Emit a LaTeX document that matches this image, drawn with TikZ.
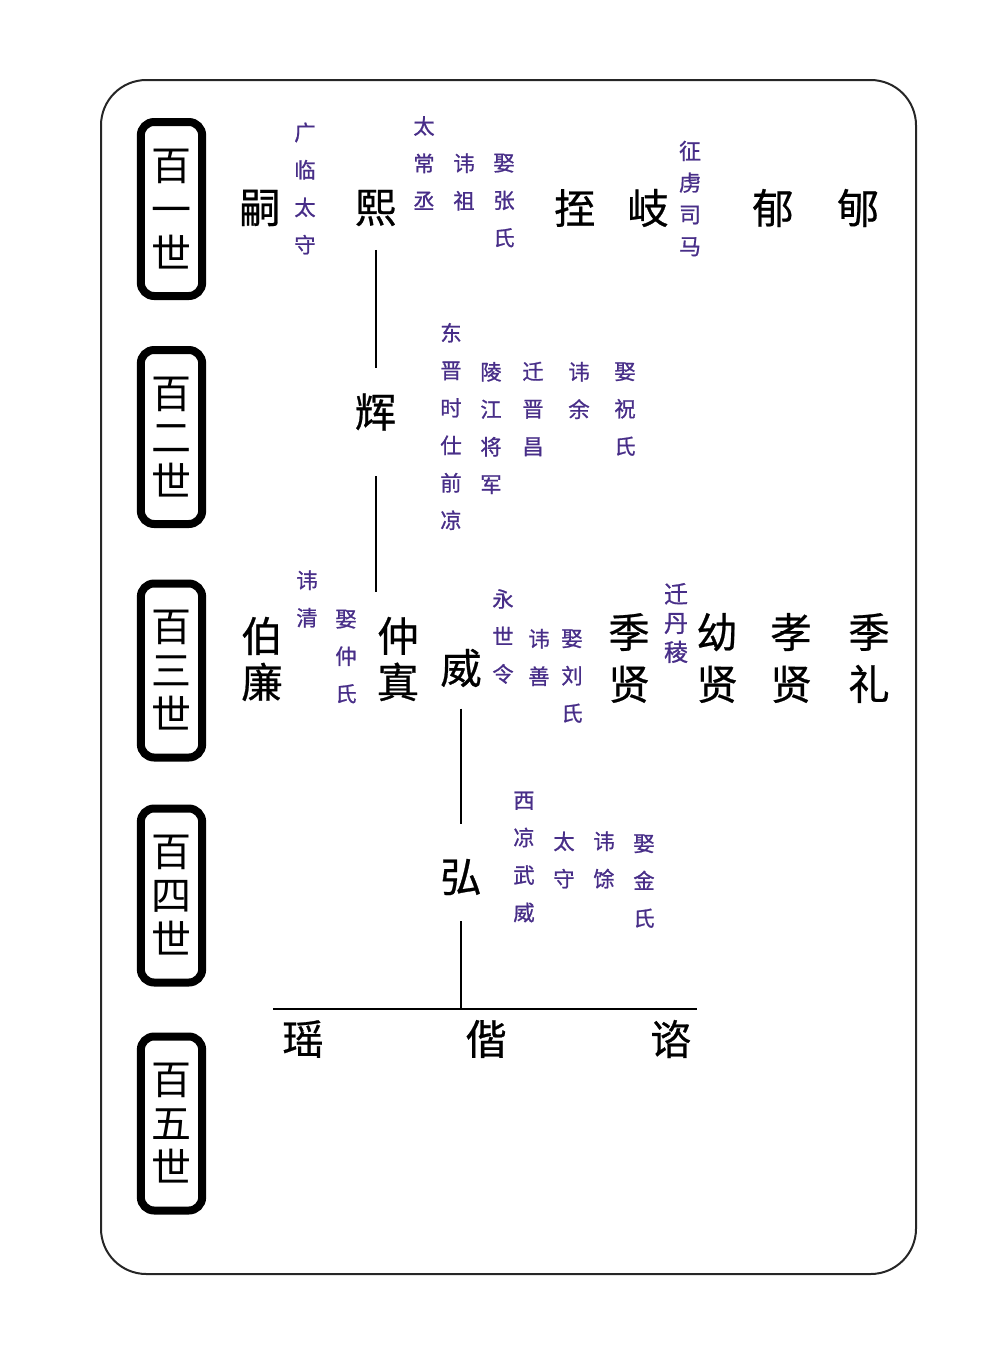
\documentclass[tikz,border=0pt]{standalone}
\usepackage{fontspec}
\newfontfamily\cjk{Noto Sans CJK SC}
\newfontfamily\cjkn[FakeBold=0.6]{Noto Sans CJK SC}
\newfontfamily\cjkp[FakeBold=0.9]{Noto Sans CJK SC}
\definecolor{purp}{RGB}{72,46,136}
\tikzset{
  nm/.style={font=\cjkn\fontsize{31}{34.5}\selectfont, inner sep=0pt, align=center},
  nmwide/.style={nm, font=\cjkn\fontsize{31}{39}\selectfont},
  nt/.style={font=\cjkp\fontsize{16}{28.1}\selectfont, text=purp, inner sep=0pt, align=center},
  gen/.style={draw, line width=6pt, rounded corners=10pt, minimum width=46pt,
    minimum height=130.5pt, inner sep=0pt, align=center, font=\cjk\fontsize{30}{33}\selectfont},
  link/.style={line width=1.5pt},
  frame/.style={line width=1.5pt, rounded corners=34pt, draw=black!85}
}
\begin{document}
\begin{tikzpicture}[x=0.75pt,y=-0.75pt]
\useasboundingbox (0,0) rectangle (1001,1361);
\draw[frame] (101,80) rectangle (916,1274);

% generation boxes
\node[gen] (g1) at (171.5,209) {百\\一\\世};
\node[gen] (g2) at (171.5,437) {百\\二\\世};
\node[gen] (g3) at (171.5,670.5) {百\\三\\世};
\node[gen] (g4) at (171.5,895.5) {百\\四\\世};
\node[gen] (g5) at (171.5,1123.5) {百\\五\\世};

% row 1
\node[nm] (si) at (260,208) {嗣};
\node[nm] (xi) at (375.5,208) {熙};
\node[nm] (zhi) at (575,208) {挃};
\node[nm] (qi) at (648,208) {岐};
\node[nm] (yu) at (773,208) {郁};
\node[nm] (xun) at (858,208) {郇};
\node[nt] (a1) at (305,188.5) {广\\临\\太\\守};
\node[nt] (a2) at (424,163) {太\\常\\丞};
\node[nt] (a3) at (464,182) {讳\\祖};
\node[nt] (a4) at (504,200.5) {娶\\张\\氏};
\node[nt, font=\cjkp\fontsize{16.5}{23.8}\selectfont] (a5) at (690,198.5) {征\\虏\\司\\马};

% row 2
\node[nm] (hui) at (375.5,412) {辉};
\node[nt] (b1) at (451,426.5) {东\\晋\\时\\仕\\前\\凉};
\node[nt] (b2) at (491,428) {陵\\江\\将\\军};
\node[nt] (b3) at (533,409) {迁\\晋\\昌};
\node[nt] (b4) at (579,390.5) {讳\\余};
\node[nt] (b5) at (625,409) {娶\\祝\\氏};

% row 3
\node[nm] (bolian) at (262,659) {伯\\廉};
\node[nt] (c1) at (307,599) {讳\\清};
\node[nt] (c2) at (346,656.5) {娶\\仲\\氏};
\node[nm] (zhongzhi) at (398,659) {仲\\寘};
\node[nm] (wei) at (461,668) {威};
\node[nt] (c3) at (503,636.5) {永\\世\\令};
\node[nt] (c4) at (539,657.5) {讳\\善};
\node[nt] (c5) at (572,676) {娶\\刘\\氏};
\node[nmwide] (jixian) at (629,658) {季\\贤};
\node[nt, font=\cjkp\fontsize{18}{21.75}\selectfont] (c6) at (676,623) {迁\\丹\\稜};
\node[nmwide] (youxian) at (717,658) {幼\\贤};
\node[nmwide] (xiaoxian) at (791,658) {孝\\贤};
\node[nmwide] (jili) at (869,658) {季\\礼};

% row 4
\node[nm] (hong) at (461,877) {弘};
\node[nt] (d1) at (524,857) {西\\凉\\武\\威};
\node[nt] (d2) at (564,860) {太\\守};
\node[nt] (d3) at (604,860) {讳\\馀};
\node[nt] (d4) at (644,881) {娶\\金\\氏};

% row 5
\node[nm] (yao) at (303,1039) {瑶};
\node[nm] (xie) at (486,1039) {偕};
\node[nm] (zi) at (671,1039) {谘};

% connectors
\coordinate (huiend) at (375.5,592);
\coordinate (barL) at (273,1009);
\coordinate (barM) at (461,1009);
\coordinate (barR) at (697,1009);
\draw[link, shorten <=17.6pt, shorten >=19pt] (xi.south) -- (hui.north);
\draw[link, shorten <=34pt] (hui.south) -- (huiend);
\draw[link, shorten <=16pt, shorten >=26pt] (wei.south) -- (hong.north);
\draw[link, shorten <=19.5pt] (hong.south) -- (barM);
\draw[link] (barL) -- (barR);
\end{tikzpicture}
\end{document}
